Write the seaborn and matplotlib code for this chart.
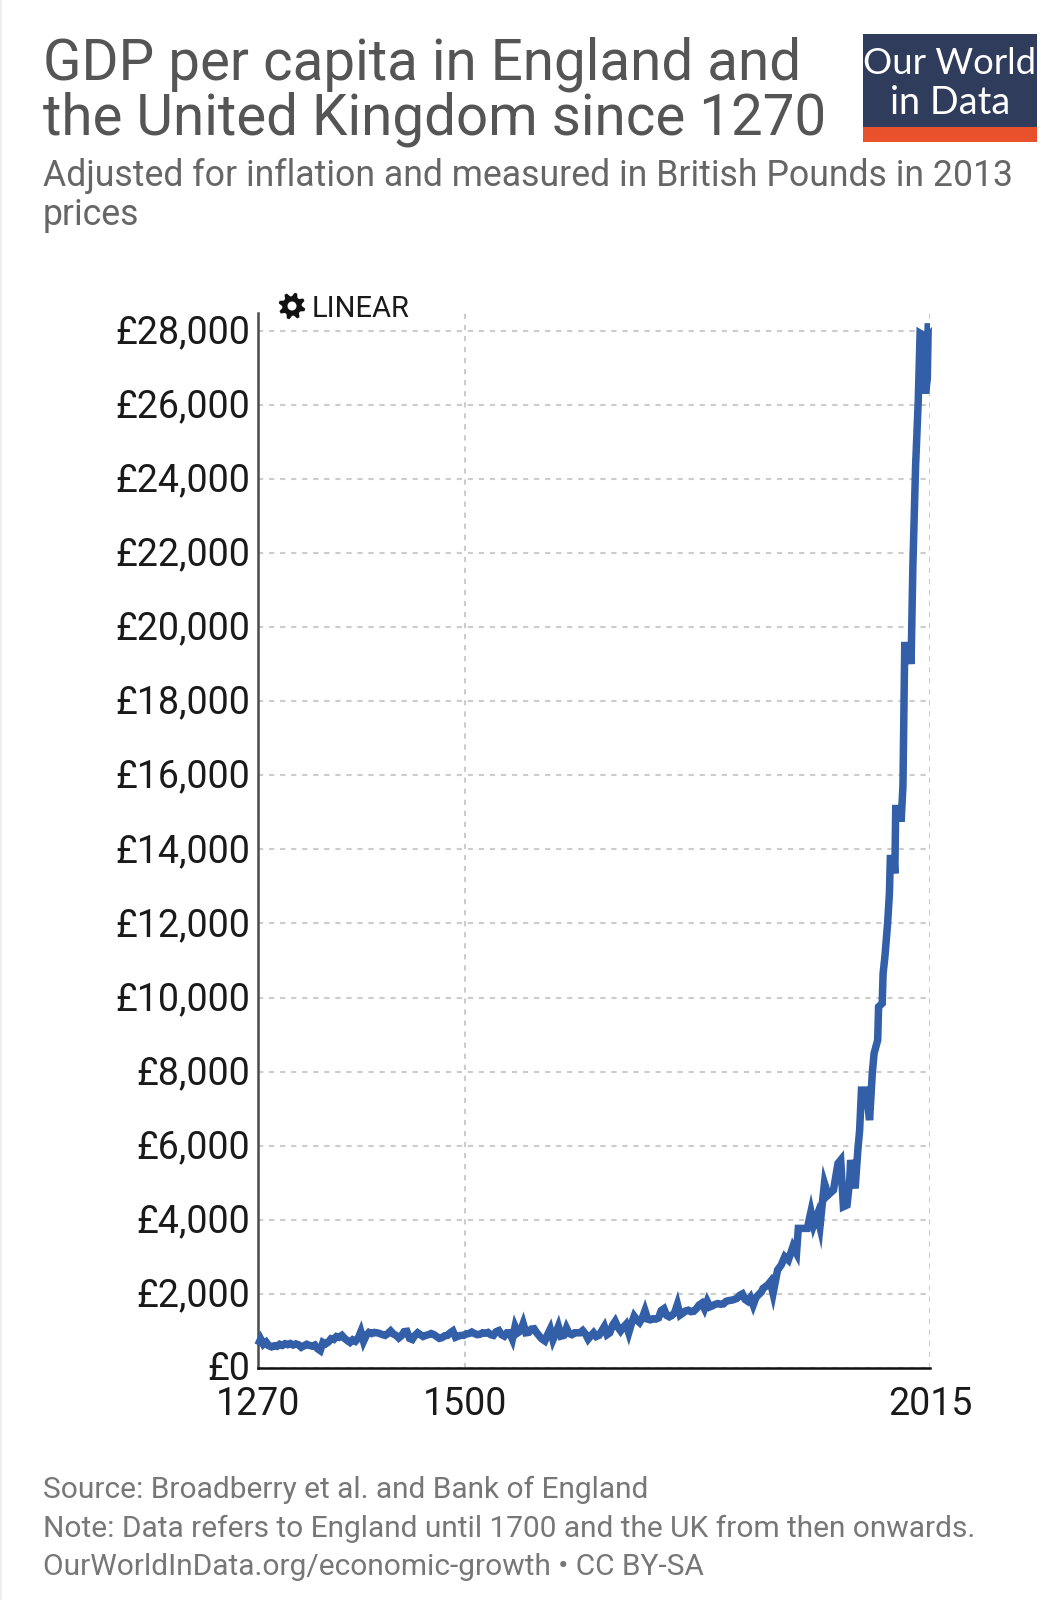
import matplotlib
matplotlib.use("Agg")
import matplotlib.pyplot as plt
import matplotlib.transforms as mtrans
import numpy as np
import seaborn as sns
from matplotlib.patches import Rectangle, Polygon

years_early = list(range(1270, 1829, 3))
gdp_early = [620,780,640,700,600,570,600,585,640,610,655,630,660,620,650,625,560,600,640,610,
             590,620,520,470,690,650,700,790,770,850,830,880,800,740,690,760,720,800,980,720,
             880,960,930,960,950,930,900,880,930,1000,920,880,810,870,980,990,800,770,880,950,
             900,850,880,900,930,900,850,800,820,870,880,950,1000,830,860,880,880,920,930,970,
             930,900,910,950,940,960,900,880,980,1010,900,860,950,950,780,1120,950,1000,1200,950,
             960,1050,1060,950,860,780,730,900,1050,760,930,1120,860,880,1080,930,900,950,950,950,
             1010,920,780,870,950,850,880,1000,1120,900,950,1150,1260,1100,1000,1100,1180,950,1200,1400,
             1300,1230,1350,1550,1320,1300,1330,1320,1350,1550,1600,1420,1380,1420,1500,1720,1430,1480,1540,1560,
             1520,1530,1600,1700,1750,1600,1800,1650,1680,1720,1740,1720,1730,1800,1820,1830,1850,1880,1960,2000,
             1850,1800,1900,1700,1900,1980,2050]
years_late = [1830,1835,1838,1841,1846,1850,1854,1858,1863,1867,1869,1874,1879,1883,1886,1890,1893,1896,1898,1902,1908,1913,1916,1919,1923,1926,1927,1932,1935,1937,1939,
              1944,1948,1951,1953,1957,1958,1962,1963,1965,1968,1970,1971,1975,1976,1977,1982,1983,1985,1987,1992,1994,1996,1999,2002,2004,2009,2010,2012,2013,2015]
gdp_late = [2150,2238,2328,2013,2643,2778,3003,2913,3273,3093,3768,3768,3768,4218,3858,4128,3813,4533,4983,4668,4803,5523,5613,4353,4398,5073,5613,4848,5883,6423,7500,
            7500,6690,7950,8490,8850,9750,9840,10650,11100,12000,12810,13750,13750,13350,15100,15100,14750,15700,19500,19500,19000,21626,24326,26126,27926,27850,26300,26700,28100,28100]
years = years_early + years_late
gdp = gdp_early + gdp_late

y_ticks = list(range(0, 28001, 2000))
x_ticks = [1270, 1500, 2015]
title_lines = ["GDP per capita in England and", "the United Kingdom since 1270"]
subtitle_lines = ["Adjusted for inflation and measured in British Pounds in 2013", "prices"]
footer_lines = ["Source: Broadberry et al. and Bank of England",
                "Note: Data refers to England until 1700 and the UK from then onwards.",
                "OurWorldInData.org/economic-growth • CC BY-SA"]

W, H = 1053, 1600
sns.set_theme(style="white")
plt.rcParams["font.family"] = ["Roboto", "DejaVu Sans"]
fig = plt.figure(figsize=(W/100, H/100), dpi=100, facecolor="white")
L, R, T, B = 258, 930, 313, 1368
ax = fig.add_axes([L/W, 1-B/H, (R-L)/W, (B-T)/H])

ax.set_xlim(1270, 2015)
ax.set_ylim(0, (B-T)/0.03705)
sns.lineplot(x=years, y=gdp, ax=ax, color="#325fa8", linewidth=5.4, estimator=None, sort=False,
             solid_joinstyle="miter", solid_capstyle="butt", clip_on=False, zorder=3)

ax.set_yticks(y_ticks)
ax.set_yticklabels([f"£{v:,}" for v in y_ticks], fontsize=27, color="#1a1a1a")
ax.set_xticks(x_ticks)
ax.set_xticklabels([str(v) for v in x_ticks], fontsize=27, color="#1a1a1a")
ax.tick_params(axis="y", length=0, pad=5.5)
ax.tick_params(axis="x", length=0, pad=13)
up = mtrans.ScaledTranslation(0, 2/100, fig.dpi_scale_trans)
for lab in ax.get_yticklabels():
    lab.set_transform(lab.get_transform() + up)
ax.grid(True, color="#cccccc", lw=1.5, ls=(0, (2.5, 2.8)))
ax.set_axisbelow(True)
for s in ["top", "right"]:
    ax.spines[s].set_visible(False)
ax.spines["left"].set_color("#4a4a4a")
ax.spines["left"].set_linewidth(1.8)
ax.spines["bottom"].set_color("#111111")
ax.spines["bottom"].set_linewidth(1.8)
ax.set_xlabel("")
ax.set_ylabel("")

def put(x, y, s, size, color, **kw):
    kw.setdefault("va", "center")
    return fig.text(x/W, 1-y/H, s, fontsize=size, color=color, **kw)

put(43, 64, title_lines[0], 40.7, "#555555")
put(43, 119, title_lines[1], 40.7, "#555555")
put(43, 176, subtitle_lines[0], 25.7, "#666666")
put(43, 215, subtitle_lines[1], 25.7, "#666666")
for yy, s in zip([1490, 1529, 1567], footer_lines):
    put(43, yy, s, 21.5, "#777777")

# settings gear beside the scale label
n_teeth = 8
angles = np.linspace(0, 2*np.pi, n_teeth*4, endpoint=False) + np.pi/n_teeth/2
radii = np.tile([13.5, 13.5, 9.8, 9.8], n_teeth)
gear = np.column_stack([(292 + radii*np.cos(angles))/W, 1-(306 + radii*np.sin(angles))/H])
fig.add_artist(Polygon(gear, closed=True, transform=fig.transFigure, fc="#111111", ec="none"))
hole = np.linspace(0, 2*np.pi, 40)
fig.add_artist(Polygon(np.column_stack([(292 + 4.5*np.cos(hole))/W, 1-(306 + 4.5*np.sin(hole))/H]),
                       closed=True, transform=fig.transFigure, fc="white", ec="none"))
put(312, 309, "LINEAR", 21, "#1a1a1a")

fig.add_artist(Rectangle((863/W, 1-127/H), 174/W, 93/H, transform=fig.transFigure, fc="#2f3c5c", ec="none"))
fig.add_artist(Rectangle((863/W, 1-142/H), 174/W, 15/H, transform=fig.transFigure, fc="#e9502c", ec="none"))
put(950, 64, "Our World", 26.3, "white", ha="center", family="Lato")
put(950, 103, "in Data", 27.3, "white", ha="center", family="Lato")
fig.add_artist(Rectangle((0, 0), 2/W, 1, transform=fig.transFigure, fc="#eeeeee", ec="none"))

fig.savefig("out.png", dpi=100, facecolor="white")
